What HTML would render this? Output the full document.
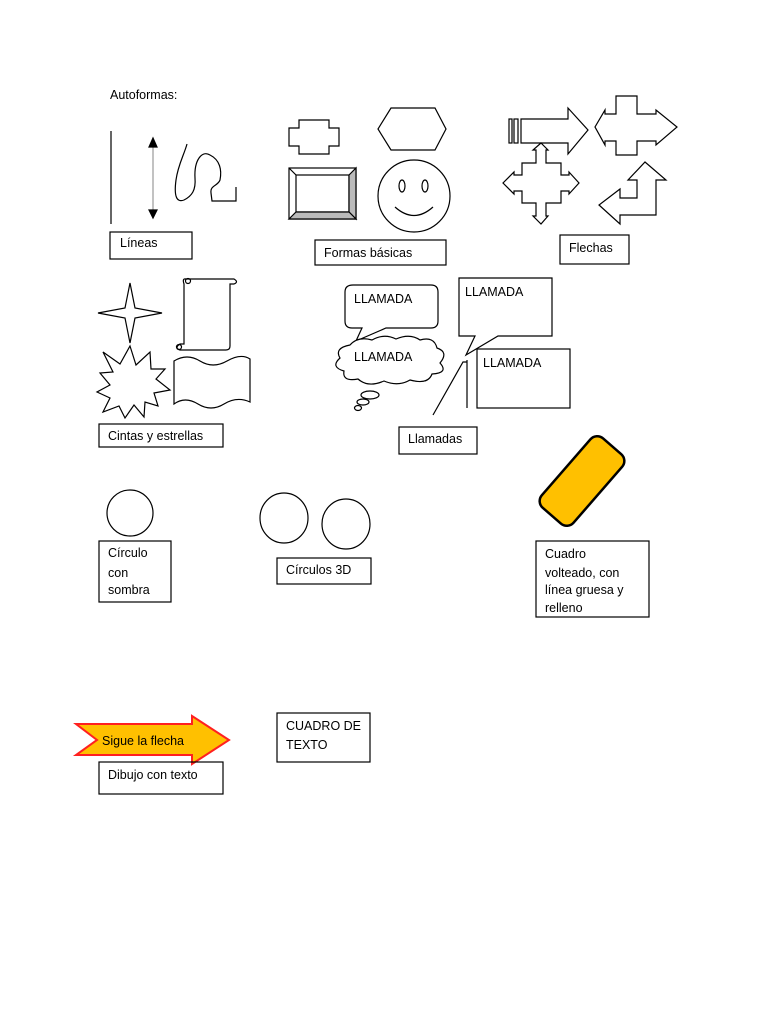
<!DOCTYPE html>
<html><head><meta charset="utf-8"><style>
html,body{margin:0;padding:0;background:#fff;}
svg{display:block;}
text{font-family:"Liberation Sans",sans-serif;font-size:12.5px;fill:#000;}
</style></head><body>
<svg width="768" height="1024" viewBox="0 0 768 1024" xmlns="http://www.w3.org/2000/svg">
<g fill="none" stroke="#000" stroke-width="1.2">
<text x="110" y="99" stroke="none">Autoformas:</text>
<!-- Lines -->
<line x1="111" y1="131" x2="111" y2="224"/>
<line x1="153" y1="146" x2="153" y2="210" stroke="#999"/>
<polygon points="149,147 157,147 153,138" fill="#000"/>
<polygon points="149,210 157,210 153,218" fill="#000"/>
<path d="M187,144 C184,155 178,165 176,180 C174,195 176,203 184,200 C192,196 196,190 195,178 C194,160 202,150 210,155 C220,160 222,170 220,180 C218,186 210,185 211,193 L212,201 L236,201 L236,187"/>
<rect x="110" y="232" width="82" height="27"/>
<text x="120" y="247" stroke="none">Líneas</text>
<!-- basic shapes -->
<polygon points="299,120 329,120 329,128 339,128 339,146 329,146 329,154 299,154 299,146 289,146 289,128 299,128"/>
<polygon points="391,108 435,108 446,129 435,150 391,150 378,129"/>
<rect x="289" y="168" width="67" height="51"/>
<rect x="296" y="175" width="53" height="37"/>
<polygon points="349,175 356,168 356,219 349,212" fill="#bbb"/>
<polygon points="296,212 349,212 356,219 289,219" fill="#bbb"/>
<line x1="289" y1="168" x2="296" y2="175"/>
<circle cx="414" cy="196" r="36"/>
<ellipse cx="402" cy="186" rx="3" ry="6"/>
<ellipse cx="425" cy="186" rx="3" ry="6"/>
<path d="M395,207 Q414,224 433,207"/>
<rect x="315" y="240" width="131" height="25"/>
<text x="324" y="257" stroke="none">Formas básicas</text>
<!-- arrows -->
<rect x="509" y="119" width="3" height="24"/>
<rect x="514" y="119" width="4" height="24"/>
<polygon points="521,119 568,119 568,108 588,130 568,154 568,143 521,143"/>
<polygon points="616,96 637,96 637,114 656,114 656,110 677,127 656,145 656,141 637,141 637,155 616,155 616,141 605,141 605,145 595,127 605,110 605,114 616,114"/>
<polygon points="541,143 548,150 546,150 546,163 561,163 561,175 569,175 569,172 579,183 569,194 569,191 561,191 561,203 546,203 546,216 548,216 541,224 533,216 536,216 536,203 522,203 522,191 514,191 514,194 503,183 514,172 514,175 522,175 522,163 536,163 536,150 533,150"/>
<polygon points="645,162 666,180 656,180 656,215 620,215 620,224 599,205 620,189 620,198 637,198 637,180 628,180"/>
<rect x="560" y="235" width="69" height="29"/>
<text x="569" y="252" stroke="none">Flechas</text>
<!-- stars & ribbons -->
<polygon points="130,283 135,308 162,313 135,318 130,343 125,318 98,313 125,308"/>
<path d="M186,279 L234,279 Q239,282 234,284 L230,284 L230,346 Q230,350 226,350 L180,350 Q174,348 180,344 L184,344 L184,284 Q182,278 186,279 Z"/>
<circle cx="188" cy="281" r="2.5"/>
<circle cx="179" cy="347" r="2.5"/>
<polygon points="130,346 136,365 150,352 151,369 165,369 156,379 170,390 154,393 158,406 145,402 144,417 134,405 125,418 119,406 103,412 110,398 97,392 110,385 100,373 113,372 103,352 120,364"/>
<path d="M174,361 Q187,353 200,361 T227,361 T250,359 L250,402 Q237,396 224,404 T198,404 T174,404 Z"/>
<rect x="99" y="424" width="124" height="23"/>
<text x="108" y="440" stroke="none">Cintas y estrellas</text>
<!-- callouts -->
<path d="M353,285 L431,285 Q438,285 438,292 L438,321 Q438,328 431,328 L386,328 L356,341 L362,328 L352,328 Q345,328 345,321 L345,292 Q345,285 353,285 Z"/>
<path d="M350,345 Q358,336 372,340 Q384,333 396,339 Q410,333 420,340 Q434,336 437,348 Q449,352 440,363 Q449,373 432,374 Q428,385 410,380 Q398,387 384,381 Q368,388 358,379 Q342,382 344,371 Q330,367 340,358 Q334,348 350,345 Z" fill="#fff"/>
<ellipse cx="370" cy="395" rx="9" ry="4"/>
<ellipse cx="363" cy="402" rx="6" ry="3"/>
<ellipse cx="358" cy="408" rx="3.5" ry="2.5"/>
<path d="M459,278 L552,278 L552,336 L498,336 L466,355 L475,336 L459,336 Z"/>
<rect x="477" y="349" width="93" height="59"/>
<line x1="467" y1="360" x2="467" y2="408"/>
<polyline points="433,415 463,362 467,362"/>
<text x="354" y="303" stroke="none">LLAMADA</text>
<text x="354" y="361" stroke="none">LLAMADA</text>
<text x="465" y="296" stroke="none">LLAMADA</text>
<text x="483" y="367" stroke="none">LLAMADA</text>
<rect x="399" y="427" width="78" height="27"/>
<text x="408" y="443" stroke="none">Llamadas</text>
<!-- circles -->
<circle cx="130" cy="513" r="23"/>
<rect x="99" y="541" width="72" height="61"/>
<text x="108" y="557" stroke="none">Círculo</text>
<text x="108" y="577" stroke="none">con</text>
<text x="108" y="594" stroke="none">sombra</text>
<ellipse cx="284" cy="518" rx="24" ry="25"/>
<ellipse cx="346" cy="524" rx="24" ry="25"/>
<rect x="277" y="558" width="94" height="26"/>
<text x="286" y="574" stroke="none">Círculos 3D</text>
<rect x="-21" y="-46" width="42" height="92" rx="9" transform="translate(582,481) rotate(41)" fill="#ffc000" stroke-width="2.5"/>
<rect x="536" y="541" width="113" height="76"/>
<text x="545" y="558" stroke="none">Cuadro</text>
<text x="545" y="577" stroke="none">volteado, con</text>
<text x="545" y="594" stroke="none">línea gruesa y</text>
<text x="545" y="612" stroke="none">relleno</text>
<!-- arrow with text -->
<polygon points="76,724 192,724 192,716 229,740 192,764 192,755 76,755 97,740" fill="#ffc000" stroke="#ff2020" stroke-width="2"/>
<text x="102" y="745" stroke="none">Sigue la flecha</text>
<rect x="99" y="762" width="124" height="32"/>
<text x="108" y="779" stroke="none">Dibujo con texto</text>
<rect x="277" y="713" width="93" height="49"/>
<text x="286" y="730" stroke="none">CUADRO DE</text>
<text x="286" y="749" stroke="none">TEXTO</text>
</g>
</svg>
</body></html>
